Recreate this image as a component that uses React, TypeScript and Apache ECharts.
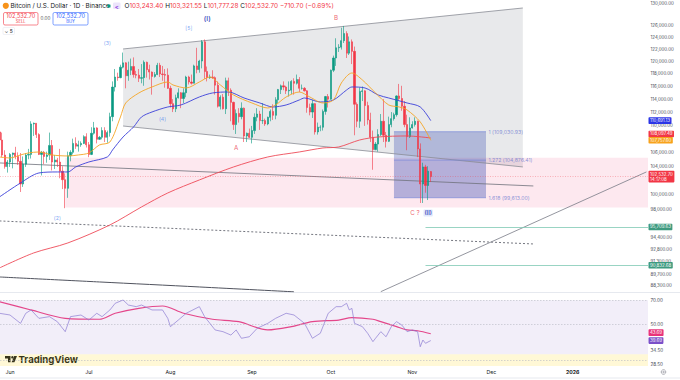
import React, { useEffect, useRef } from 'react';
import * as echarts from 'echarts';

const FONT = 'Inter, Roboto, "Noto Sans", sans-serif';
const DAY = 86400000;
const t = (s: string) => Date.parse(s + 'T00:00:00Z');
const JUN1 = t('2025-06-01');
const X_MIN = JUN1 - 3.8 * DAY;
const X_MAX = JUN1 + 242.6 * DAY;
const Y_MIN = 87560;
const Y_MAX = 130560;
const R_MIN = 27.75;
const R_MAX = 77.58;

// date, open, close, low, high
const candles: [string, number, number, number, number][] = [
  ['2025-05-28', 109000, 107800, 106800, 109300], ['2025-05-29', 107800, 105600, 105300, 108900],
  ['2025-05-30', 105600, 103950, 103650, 106300], ['2025-05-31', 103950, 104600, 103100, 104900],
  ['2025-06-01', 104600, 105700, 103900, 105900], ['2025-06-02', 105700, 105900, 103700, 105950],
  ['2025-06-03', 105900, 105400, 105000, 106800], ['2025-06-04', 105400, 104700, 104200, 106000],
  ['2025-06-05', 104700, 101500, 100400, 105900], ['2025-06-06', 101500, 104300, 101100, 105400],
  ['2025-06-07', 104300, 105600, 103900, 105900], ['2025-06-08', 105600, 105700, 105000, 106500],
  ['2025-06-09', 105700, 110200, 105100, 110600], ['2025-06-10', 110200, 110300, 108400, 110400],
  ['2025-06-11', 110300, 108600, 108100, 110300], ['2025-06-12', 108600, 105700, 105600, 108800],
  ['2025-06-13', 105700, 106000, 102700, 106200], ['2025-06-14', 106000, 105400, 104300, 106200],
  ['2025-06-15', 105400, 105600, 104500, 106100], ['2025-06-16', 105600, 107000, 104900, 108900],
  ['2025-06-17', 107000, 104600, 103400, 107800], ['2025-06-18', 104600, 104900, 103600, 105600],
  ['2025-06-19', 104900, 104600, 103900, 105200], ['2025-06-20', 104600, 103300, 102300, 106500],
  ['2025-06-21', 103300, 102100, 100800, 104000], ['2025-06-22', 102100, 100900, 98200, 103000],
  ['2025-06-23', 100900, 105500, 99600, 106100], ['2025-06-24', 105500, 106000, 104700, 106300],
  ['2025-06-25', 106000, 107300, 105700, 108000], ['2025-06-26', 107300, 106900, 106500, 108200],
  ['2025-06-27', 106900, 107100, 106100, 107700], ['2025-06-28', 107100, 107300, 106800, 107600],
  ['2025-06-29', 107300, 108300, 107200, 108500], ['2025-06-30', 108300, 107100, 106700, 108800],
  ['2025-07-01', 107100, 105700, 105300, 107500], ['2025-07-02', 105700, 108800, 105600, 109700],
  ['2025-07-03', 108800, 109600, 108600, 110500], ['2025-07-04', 109600, 107900, 107300, 109700],
  ['2025-07-05', 107900, 108200, 107800, 108400], ['2025-07-06', 108200, 109200, 107900, 109700],
  ['2025-07-07', 109200, 108200, 107500, 109700], ['2025-07-08', 108200, 108900, 107400, 109200],
  ['2025-07-09', 108900, 111300, 108300, 111900], ['2025-07-10', 111300, 115900, 110600, 116800],
  ['2025-07-11', 115900, 117500, 115200, 118800], ['2025-07-12', 117500, 117400, 116900, 118200],
  ['2025-07-13', 117400, 119100, 117300, 119500], ['2025-07-14', 119100, 119800, 118900, 121500],
  ['2025-07-15', 119800, 117700, 115700, 119900], ['2025-07-16', 117700, 118600, 116900, 120000],
  ['2025-07-17', 118600, 119200, 117800, 120500], ['2025-07-18', 119200, 117900, 117400, 120700],
  ['2025-07-19', 117900, 117800, 117300, 118500], ['2025-07-20', 117800, 117300, 116700, 118800],
  ['2025-07-21', 117300, 117400, 116500, 119600], ['2025-07-22', 117400, 119900, 116100, 120200],
  ['2025-07-23', 119900, 118700, 117400, 120000], ['2025-07-24', 118700, 118300, 117100, 119500],
  ['2025-07-25', 118300, 117600, 114700, 118400], ['2025-07-26', 117600, 117900, 117400, 118300],
  ['2025-07-27', 117900, 119400, 117800, 119800], ['2025-07-28', 119400, 118000, 117500, 119800],
  ['2025-07-29', 118000, 117900, 116900, 119300], ['2025-07-30', 117900, 117800, 115800, 118800],
  ['2025-07-31', 117800, 115700, 115600, 118900], ['2025-08-01', 115700, 113300, 112700, 116100],
  ['2025-08-02', 113300, 112500, 112000, 114000], ['2025-08-03', 112500, 114200, 112000, 114700],
  ['2025-08-04', 114200, 115000, 114100, 115700], ['2025-08-05', 115000, 114100, 112600, 115100],
  ['2025-08-06', 114100, 115000, 113400, 115700], ['2025-08-07', 115000, 117500, 114300, 117700],
  ['2025-08-08', 117500, 116700, 116300, 117700], ['2025-08-09', 116700, 116500, 116300, 117900],
  ['2025-08-10', 116500, 119300, 116500, 119500], ['2025-08-11', 119300, 118700, 118100, 122300],
  ['2025-08-12', 118700, 120100, 118200, 120300], ['2025-08-13', 120100, 123300, 118900, 123600],
  ['2025-08-14', 123300, 118400, 117200, 123700], ['2025-08-15', 118400, 117400, 116800, 119200],
  ['2025-08-16', 117400, 117500, 117200, 117900], ['2025-08-17', 117500, 117400, 117200, 118600],
  ['2025-08-18', 117400, 116200, 114700, 117600], ['2025-08-19', 116200, 112900, 112700, 116800],
  ['2025-08-20', 112900, 114300, 112400, 114600], ['2025-08-21', 114300, 112500, 112400, 114800],
  ['2025-08-22', 112500, 116900, 111700, 117400], ['2025-08-23', 116900, 115400, 114500, 117400],
  ['2025-08-24', 115400, 113500, 110600, 115700], ['2025-08-25', 113500, 110100, 109300, 113600],
  ['2025-08-26', 110100, 111800, 108700, 112400], ['2025-08-27', 111800, 111300, 110400, 112600],
  ['2025-08-28', 111300, 112600, 110900, 113500], ['2025-08-29', 112600, 108400, 107500, 112700],
  ['2025-08-30', 108400, 108800, 107500, 108900], ['2025-08-31', 108800, 108200, 108100, 109500],
  ['2025-09-01', 108200, 109200, 107300, 109900], ['2025-09-02', 109200, 111200, 108700, 111800],
  ['2025-09-03', 111200, 111700, 110600, 112600], ['2025-09-04', 111700, 110700, 109300, 112200],
  ['2025-09-05', 110700, 110700, 110200, 113400], ['2025-09-06', 110700, 110200, 109900, 111000],
  ['2025-09-07', 110200, 111200, 110000, 111300], ['2025-09-08', 111200, 112100, 110600, 112400],
  ['2025-09-09', 112100, 111500, 110800, 113200], ['2025-09-10', 111500, 113900, 110900, 114300],
  ['2025-09-11', 113900, 115500, 113400, 115600], ['2025-09-12', 115500, 116100, 114800, 116300],
  ['2025-09-13', 116100, 115900, 115400, 116800], ['2025-09-14', 115900, 115300, 114800, 116100],
  ['2025-09-15', 115300, 115400, 114400, 116800], ['2025-09-16', 115400, 116800, 114800, 117000],
  ['2025-09-17', 116800, 116500, 114700, 117300], ['2025-09-18', 116500, 117100, 116300, 117900],
  ['2025-09-19', 117100, 115700, 115100, 117500], ['2025-09-20', 115700, 115700, 115500, 116300],
  ['2025-09-21', 115700, 115300, 115200, 115900], ['2025-09-22', 115300, 112700, 111900, 115400],
  ['2025-09-23', 112700, 112000, 111500, 113300], ['2025-09-24', 112000, 113300, 111100, 113900],
  ['2025-09-25', 113300, 109000, 108600, 113400], ['2025-09-26', 109000, 109700, 108600, 110400],
  ['2025-09-27', 109700, 109700, 109100, 110000], ['2025-09-28', 109700, 112100, 109200, 112400],
  ['2025-09-29', 112100, 114400, 111600, 114500], ['2025-09-30', 114400, 114000, 112700, 114800],
  ['2025-10-01', 114000, 118600, 113900, 118700], ['2025-10-02', 118600, 120600, 118300, 121000],
  ['2025-10-03', 120600, 122300, 119300, 123900], ['2025-10-04', 122300, 122400, 121600, 122900],
  ['2025-10-05', 122400, 123500, 122000, 125700], ['2025-10-06', 123500, 124700, 123100, 126000],
  ['2025-10-07', 124700, 121400, 120600, 125100], ['2025-10-08', 121400, 123300, 121100, 124200],
  ['2025-10-09', 123300, 121700, 119600, 123700], ['2025-10-10', 121700, 113200, 108500, 122500],
  ['2025-10-11', 113200, 110600, 109700, 113500], ['2025-10-12', 110600, 115200, 109600, 115800],
  ['2025-10-13', 115200, 115300, 113700, 116000], ['2025-10-14', 115300, 113000, 109900, 115400],
  ['2025-10-15', 113000, 110800, 110100, 113600], ['2025-10-16', 110800, 108200, 107500, 111900],
  ['2025-10-17', 108200, 106400, 103500, 109200], ['2025-10-18', 106400, 107200, 106300, 107500],
  ['2025-10-19', 107200, 108600, 106100, 109400], ['2025-10-20', 108600, 110600, 108400, 111700],
  ['2025-10-21', 110600, 108500, 107500, 114000], ['2025-10-22', 108500, 107600, 106700, 109000],
  ['2025-10-23', 107600, 110100, 107500, 111300], ['2025-10-24', 110100, 111000, 109700, 112000],
  ['2025-10-25', 111000, 111600, 110700, 111900], ['2025-10-26', 111600, 114500, 111300, 114600],
  ['2025-10-27', 114500, 114100, 113800, 116400], ['2025-10-28', 114100, 112900, 112200, 116100],
  ['2025-10-29', 112900, 110100, 109700, 113700], ['2025-10-30', 110100, 108300, 106300, 111600],
  ['2025-10-31', 108300, 109600, 108100, 111200], ['2025-11-01', 109600, 110100, 109500, 110600],
  ['2025-11-02', 110100, 110600, 109800, 111200], ['2025-11-03', 110600, 106500, 105300, 110700],
  ['2025-11-04', 106500, 101500, 98900, 107300], ['2025-11-05', 101500, 103900, 98900, 104500],
  ['2025-11-06', 103900, 101300, 100300, 104200], ['2025-11-07', 101300, 103300, 99300, 104000],
  ['2025-11-08', 103243.4, 102532.7, 101777.28, 103321.55],
];

const maOrange: [string, number][] = [
  ['2025-05-28', 105327], ['2025-06-01', 105184], ['2025-06-05', 105616], ['2025-06-08', 105906],
  ['2025-06-12', 106050], ['2025-06-17', 105616], ['2025-06-23', 105471], ['2025-06-27', 105616],
  ['2025-07-01', 105906], ['2025-07-05', 107071], ['2025-07-09', 107511], ['2025-07-13', 111252],
  ['2025-07-15', 113403], ['2025-07-20', 114965], ['2025-07-25', 115912], ['2025-07-31', 116707],
  ['2025-08-02', 116230], ['2025-08-07', 115754], ['2025-08-12', 116707], ['2025-08-16', 117509],
  ['2025-08-20', 116230], ['2025-08-25', 114651], ['2025-09-01', 113403], ['2025-09-07', 112630],
  ['2025-09-10', 113094], ['2025-09-14', 114338], ['2025-09-19', 115122], ['2025-09-23', 114338],
  ['2025-09-28', 113403], ['2025-10-02', 113870], ['2025-10-05', 116548], ['2025-10-09', 118154],
  ['2025-10-13', 117028], ['2025-10-18', 114965], ['2025-10-23', 113094], ['2025-10-27', 112784],
  ['2025-10-30', 112323], ['2025-11-04', 110494], ['2025-11-08', 107757.6],
];
const maBlue: [string, number][] = [
  ['2025-05-28', 99718], ['2025-06-05', 101647], ['2025-06-12', 103047], ['2025-06-19', 103188],
  ['2025-06-23', 103188], ['2025-06-26', 103896], ['2025-07-01', 104609], ['2025-07-08', 105327],
  ['2025-07-10', 106341], ['2025-07-14', 108249], ['2025-07-18', 109741], ['2025-07-21', 111252],
  ['2025-07-25', 112015], ['2025-07-31', 112784], ['2025-08-05', 113094], ['2025-08-12', 114338],
  ['2025-08-17', 114965], ['2025-08-23', 115122], ['2025-08-29', 114181], ['2025-09-04', 113403],
  ['2025-09-09', 112784], ['2025-09-14', 113094], ['2025-09-19', 113870], ['2025-09-21', 114181],
  ['2025-09-27', 113559], ['2025-10-02', 113870], ['2025-10-07', 115438], ['2025-10-09', 115912],
  ['2025-10-14', 115754], ['2025-10-19', 114651], ['2025-10-23', 114181], ['2025-10-30', 113403],
  ['2025-11-04', 112784], ['2025-11-08', 110691.13],
];
const maRed: [string, number][] = [
  ['2025-05-28', 90488], ['2025-06-10', 92365], ['2025-06-23', 93638], ['2025-07-09', 95972],
  ['2025-07-21', 98363], ['2025-07-31', 100266], ['2025-08-12', 102065], ['2025-08-25', 103896],
  ['2025-09-07', 105327], ['2025-09-19', 106050], ['2025-09-28', 106633], ['2025-10-04', 106779],
  ['2025-10-12', 107806], ['2025-10-19', 108249], ['2025-10-30', 108398], ['2025-11-08', 108097.49],
];

const rsi: [string, number][] = [
  ['2025-05-28', 58.3], ['2025-06-01', 56.9], ['2025-06-05', 50.6], ['2025-06-07', 58.3], ['2025-06-09', 61.1],
  ['2025-06-12', 54.3], ['2025-06-16', 55.6], ['2025-06-19', 51.8], ['2025-06-22', 45.0], ['2025-06-24', 55.6],
  ['2025-06-28', 56.9], ['2025-07-01', 53.0], ['2025-07-04', 58.3], ['2025-07-06', 55.6], ['2025-07-09', 61.1],
  ['2025-07-11', 67.1], ['2025-07-14', 70.3], ['2025-07-16', 65.5], ['2025-07-19', 64.0], ['2025-07-21', 65.5],
  ['2025-07-25', 61.1], ['2025-07-29', 61.1], ['2025-07-31', 54.3], ['2025-08-01', 48.3], ['2025-08-04', 53.0],
  ['2025-08-07', 58.3], ['2025-08-12', 64.0], ['2025-08-14', 55.6], ['2025-08-18', 46.1], ['2025-08-21', 45.0],
  ['2025-08-24', 42.9], ['2025-08-26', 46.1], ['2025-08-28', 41.0], ['2025-08-31', 41.9], ['2025-09-03', 47.2],
  ['2025-09-07', 50.6], ['2025-09-10', 54.3], ['2025-09-14', 58.3], ['2025-09-17', 56.9], ['2025-09-21', 50.6],
  ['2025-09-24', 41.0], ['2025-09-27', 44.0], ['2025-09-30', 58.3], ['2025-10-03', 64.0], ['2025-10-05', 64.0],
  ['2025-10-07', 67.1], ['2025-10-08', 61.1], ['2025-10-09', 62.5], ['2025-10-10', 50.6], ['2025-10-13', 48.3],
  ['2025-10-15', 44.0], ['2025-10-17', 39.1], ['2025-10-18', 41.0], ['2025-10-20', 45.0], ['2025-10-22', 41.9],
  ['2025-10-24', 48.3], ['2025-10-26', 51.8], ['2025-10-28', 49.4], ['2025-10-30', 45.0], ['2025-11-01', 46.1],
  ['2025-11-03', 45.0], ['2025-11-04', 36.4], ['2025-11-05', 40.0], ['2025-11-06', 38.2], ['2025-11-08', 39.69],
];
const rsiMa: [string, number][] = [
  ['2025-05-28', 68.6], ['2025-06-09', 61.1], ['2025-06-22', 54.3], ['2025-07-05', 53.6], ['2025-07-11', 58.3],
  ['2025-07-20', 62.5], ['2025-07-29', 64.6], ['2025-08-06', 58.3], ['2025-08-17', 53.6], ['2025-08-27', 51.8],
  ['2025-09-07', 46.1], ['2025-09-16', 48.3], ['2025-09-24', 51.8], ['2025-10-04', 53.0], ['2025-10-09', 54.8],
  ['2025-10-17', 53.6], ['2025-10-20', 51.8], ['2025-10-26', 48.3], ['2025-10-30', 46.1], ['2025-11-03', 45.6],
  ['2025-11-08', 43.69],
];

const priceTicks = [130000, 126000, 124000, 122000, 120000, 118000, 116000, 114000, 112000, 110000,
  106000, 104000, 100000, 98000, 94400, 92800, 91300, 89700, 88300];
const rsiTicks = [70, 50, 34.5, 28.5];
const rsiLevels = [70, 50, 30];
const monthTicks = ['2025-06-01', '2025-07-01', '2025-08-01', '2025-09-01', '2025-10-01', '2025-11-01', '2025-12-01', '2026-01-01'];
const monthNames = ['Jan', 'Feb', 'Mar', 'Apr', 'May', 'Jun', 'Jul', 'Aug', 'Sep', 'Oct', 'Nov', 'Dec'];

// drawings (date, price)
const channelPoly: [string, number][] = [['2025-07-14', 122097], ['2025-12-13', 129140], ['2025-12-13', 103900], ['2025-07-14', 109885]];
const channelTop: [string, number][] = [['2025-07-14', 122097], ['2025-12-13', 129140]];
const channelBottom: [string, number][] = [['2025-07-14', 109885], ['2025-12-13', 103900]];
const trendLine: [string, number][] = [['2025-05-28', 104470], ['2025-12-17', 101230]];
const dashedLine: [string, number][] = [['2025-05-28', 96500], ['2025-12-17', 93510]];
const risingLine: [string, number][] = [['2025-10-20', 87600], ['2026-01-29', 103190]];
const lowerCurve: [string, number][] = [['2025-05-28', 89380], ['2025-07-05', 88771], ['2025-08-12', 88166], ['2025-09-17', 87580]];
const zoneStart = '2025-06-22';
const zoneTop = 105230;
const zoneBottom = 98300;
const fibStart = '2025-10-25';
const fibEnd = '2025-11-29';
const fibLevels: [string, number][] = [['1', 109030.93], ['1.272', 104876.41], ['1.618', 99613.0]];
const targetStart = '2025-11-06';
const targets = [95709.63, 90832.68];
const lastPrice = 102532.7;
const lastTime = '14:17:08';
const rsiBandTop = 70;
const rsiBandBottom = 32.7;

const waveLabels = [
  { text: '(I)', date: '2025-08-15', price: 127200, kind: 'major' },
  { text: '[5]', date: '2025-08-08', price: 125650, kind: 'minor' },
  { text: 'B', date: '2025-10-03', price: 127390, kind: 'red' },
  { text: '(3)', date: '2025-07-08', price: 123100, kind: 'minor' },
  { text: '(4)', date: '2025-07-29', price: 110950, kind: 'minor' },
  { text: 'A', date: '2025-08-26', price: 106630, kind: 'red' },
  { text: '(2)', date: '2025-06-19', price: 96890, kind: 'minor' },
  { text: 'C ?', date: '2025-11-02', price: 97560, kind: 'red' },
  { text: '(II)', date: '2025-11-07', price: 97560, kind: 'box' },
];

const fmt2 = (v: number) => v.toLocaleString('en-US', { minimumFractionDigits: 2, maximumFractionDigits: 2 });
const toXY = (arr: [string, number][]) => arr.map(([d, v]) => [t(d), v]);

const UP = '#089981';
const DOWN = '#f23645';

function lineSeries(data: [string, number][], color: string, width: number, z: number, extra: any = {}, xi = 0) {
  const { lineStyle, ...rest } = extra;
  return {
    type: 'line', xAxisIndex: xi, yAxisIndex: xi, data: toXY(data), showSymbol: false, symbol: 'none',
    silent: true, z, lineStyle: { color, width, ...(lineStyle || {}) }, ...rest,
  };
}

function boxSeries(data: number[][], fills: string[], xi: number, z: number) {
  return {
    type: 'custom', xAxisIndex: xi, yAxisIndex: xi, z, silent: true,
    encode: { x: [0, 2], y: [1, 3] },
    data,
    renderItem: (params: any, api: any) => {
      const a = api.coord([api.value(0), api.value(1)]);
      const b = api.coord([api.value(2), api.value(3)]);
      return {
        type: 'rect',
        shape: { x: Math.min(a[0], b[0]), y: Math.min(a[1], b[1]), width: Math.abs(b[0] - a[0]), height: Math.abs(b[1] - a[1]) },
        style: { fill: fills[params.dataIndex] },
      };
    },
  };
}

const tagLabel = (bg: string, text: string, extra: any = {}) => ({
  show: true, position: 'end', distance: 0.5, formatter: text, color: '#fff', backgroundColor: bg,
  padding: [1, 1.5, 0.6, 1.5], fontSize: 4.4, borderRadius: 0.8, fontFamily: FONT, lineHeight: 5, ...extra,
});

const xAxisBase = { type: 'value', min: X_MIN, max: X_MAX, axisLine: { show: false }, axisTick: { show: false }, splitLine: { show: false } };

export default function App() {
  const ref = useRef<HTMLDivElement>(null);
  useEffect(() => {
    if (!ref.current) return;
    const chart = echarts.init(ref.current, undefined, { renderer: 'svg' });

    const waveStyle = (kind: string) => {
      if (kind === 'major') return { color: '#2a3ab8', fontSize: 6.6, fontWeight: 'bold' };
      if (kind === 'red') return { color: '#e8394a', fontSize: 6.2 };
      if (kind === 'box') return { color: '#2a3ab8', fontSize: 5.6, fontWeight: 'bold', backgroundColor: '#d9e3fb', padding: [0.5, 1], borderRadius: 1 };
      return { color: '#5b8def', fontSize: 5.2 };
    };

    const option: any = {
      animation: false,
      textStyle: { fontFamily: FONT },
      grid: [
        { left: 0, top: 0, width: 648, height: 292, containLabel: false, outerBoundsMode: 'none' },
        { left: 0, top: 293, width: 648, height: 73, containLabel: false, outerBoundsMode: 'none' },
      ],
      xAxis: [
        { ...xAxisBase, gridIndex: 0, axisLabel: { show: false } },
        {
          ...xAxisBase, gridIndex: 1,
          axisLabel: {
            show: true, customValues: monthTicks.map(t), fontSize: 5.2, color: '#131722', margin: 3.2, fontFamily: FONT,
            showMinLabel: true, showMaxLabel: true,
            formatter: (v: number) => {
              const d = new Date(v);
              return d.getUTCMonth() === 0 ? '{b|' + d.getUTCFullYear() + '}' : monthNames[d.getUTCMonth()];
            },
            rich: { b: { fontWeight: 'bold', fontSize: 5.2, color: '#131722', fontFamily: FONT } },
          },
        },
      ],
      yAxis: [
        {
          type: 'log', gridIndex: 0, position: 'right', min: Y_MIN, max: Y_MAX,
          axisLine: { show: false }, axisTick: { show: false }, splitLine: { show: false },
          axisLabel: { customValues: priceTicks, formatter: (v: number) => fmt2(v), fontSize: 4.4, color: '#434651', margin: 2.5, fontFamily: FONT },
        },
        {
          type: 'log', gridIndex: 1, position: 'right', min: R_MIN, max: R_MAX,
          axisLine: { show: false }, axisTick: { show: false }, splitLine: { show: false },
          axisLabel: { customValues: rsiTicks, formatter: (v: number) => v.toFixed(2), fontSize: 4.6, color: '#434651', margin: 2.5, fontFamily: FONT },
        },
      ],
      series: [
        {
          type: 'custom', xAxisIndex: 0, yAxisIndex: 0, z: 1, silent: true,
          encode: { x: [0, 2, 4, 6], y: [1, 3, 5, 7] },
          data: [channelPoly.flatMap(([d, v]) => [t(d), v])],
          renderItem: (params: any, api: any) => {
            const pts = [0, 1, 2, 3].map((i) => api.coord([api.value(i * 2), api.value(i * 2 + 1)]));
            return { type: 'polygon', shape: { points: pts }, style: { fill: 'rgba(120,123,134,0.17)' } };
          },
        },
        boxSeries(
          [
            [t(zoneStart), zoneTop, X_MAX, zoneBottom],
            [t(fibStart), fibLevels[0][1], t(fibEnd), fibLevels[1][1]],
            [t(fibStart), fibLevels[1][1], t(fibEnd), fibLevels[2][1]],
          ],
          ['rgba(233,30,99,0.10)', 'rgba(63,81,181,0.32)', 'rgba(63,81,181,0.38)'],
          0, 1.5,
        ),
        lineSeries(channelTop, '#8a8d96', 0.8, 3),
        lineSeries(channelBottom, '#8a8d96', 0.8, 3),
        lineSeries(trendLine, '#6e717b', 0.8, 3),
        lineSeries(dashedLine, '#50535e', 0.8, 3, { lineStyle: { type: [2, 2] } }),
        lineSeries(risingLine, '#787b86', 0.8, 3),
        lineSeries(lowerCurve, '#50535e', 1, 3, { smooth: 0.3 }),
        ...fibLevels.map(([, p]) => lineSeries([[fibStart, p], [fibEnd, p]], '#6f7fd8', 0.6, 3)),
        {
          type: 'candlestick', xAxisIndex: 0, yAxisIndex: 0, z: 5, silent: true,
          encode: { x: 0, y: [1, 2, 3, 4] },
          data: candles.map(([d, o, c, l, h]) => [t(d), o, c, l, h]),
          barWidth: 1.7,
          itemStyle: { color: UP, color0: DOWN, borderColor: UP, borderColor0: DOWN, borderWidth: 0.6 },
          markLine: {
            silent: true, symbol: ['none', 'none'], animation: false,
            data: [
              { yAxis: 110691.13, lineStyle: { color: 'rgba(0,0,0,0)', width: 0 }, label: tagLabel('#2b35e6', '110,691.13') },
              { yAxis: 108700, lineStyle: { color: 'rgba(0,0,0,0)', width: 0 }, label: tagLabel('#f23645', '108,097.49') },
              { yAxis: 107757.6, lineStyle: { color: 'rgba(0,0,0,0)', width: 0 }, label: tagLabel('#f7a21b', '107,757.60') },
              { yAxis: lastPrice, lineStyle: { color: 'rgba(242,54,69,0.55)', width: 0.6, type: [1, 1.5] }, label: tagLabel('#f23645', fmt2(lastPrice) + '\n' + lastTime) },
              ...targets.map((p) => [
                { coord: [t(targetStart), p], lineStyle: { color: '#7fc9b4', width: 0.8, type: 'solid' }, label: tagLabel('#3d9a7f', fmt2(p)) },
                { coord: [X_MAX, p] },
              ]),
            ],
          },
        },
        lineSeries(maRed, '#ee4b58', 0.9, 6, { smooth: 0.3 }),
        lineSeries(maBlue, '#3b3fd9', 0.9, 6, { smooth: 0.3 }),
        lineSeries(maOrange, '#f5a524', 0.9, 6, { smooth: 0.3 }),
        {
          type: 'scatter', xAxisIndex: 0, yAxisIndex: 0, z: 20, silent: true, symbol: 'rect', symbolSize: 0.01,
          itemStyle: { color: 'rgba(0,0,0,0)' },
          data: waveLabels.map((w) => ({ value: [t(w.date), w.price], label: { show: true, position: 'inside', formatter: w.text, fontFamily: FONT, ...waveStyle(w.kind) } })),
        },
        {
          type: 'scatter', xAxisIndex: 0, yAxisIndex: 0, z: 20, silent: true, symbol: 'rect', symbolSize: 0.01,
          itemStyle: { color: 'rgba(0,0,0,0)' },
          data: fibLevels.map(([r, p]) => ({ value: [t(fibEnd), p], label: { show: true, position: 'right', distance: 2.5, formatter: r + ' (' + fmt2(p) + ')', fontFamily: FONT, fontSize: 5.2, color: '#6f7bd0' } })),
        },
        boxSeries(
          [
            [X_MIN, rsiBandTop, X_MAX, rsiBandBottom],
            [X_MIN, rsiBandBottom, X_MAX, R_MIN],
          ],
          ['rgba(126,87,194,0.10)', 'rgba(255,214,0,0.16)'],
          1, 1,
        ),
        lineSeries(rsiMa, '#e4468a', 1.2, 4, { smooth: 0.3 }, 1),
        {
          ...lineSeries(rsi, '#8c7bd2', 0.7, 5, {}, 1),
          markLine: {
            silent: true, symbol: ['none', 'none'], animation: false,
            data: [
              ...rsiLevels.map((v) => ({ yAxis: v, lineStyle: { color: '#b7b9c2', width: 0.6, type: [1.5, 1.5] }, label: { show: false } })),
              { yAxis: 44.4, lineStyle: { color: 'rgba(0,0,0,0)', width: 0 }, label: tagLabel('#e8337a', '43.69') },
              { yAxis: 39.69, lineStyle: { color: 'rgba(0,0,0,0)', width: 0 }, label: tagLabel('#7b50c9', '39.69') },
            ],
          },
        },
      ],
      graphic: [
        { type: 'line', silent: true, shape: { x1: 0, y1: 292.5, x2: 680, y2: 292.5 }, style: { stroke: '#e0e3eb', lineWidth: 0.8 } },
        { type: 'line', silent: true, shape: { x1: 0, y1: 378, x2: 680, y2: 378 }, style: { stroke: '#e0e3eb', lineWidth: 0.8 } },
        { type: 'circle', silent: true, shape: { cx: 5.8, cy: 5.8, r: 3.1 }, style: { fill: '#f7931a' } },
        { type: 'text', silent: true, x: 10.5, y: 6, style: { text: 'Bitcoin / U.S. Dollar · 1D · Binance', fontSize: 6.3, fill: '#131722', verticalAlign: 'middle', fontFamily: FONT } },
        { type: 'rect', silent: true, shape: { x: 107.5, y: 4.5, width: 3, height: 3, r: 0.5 }, style: { fill: '#089981' } },
        { type: 'rect', silent: true, shape: { x: 113, y: 2.5, width: 7.5, height: 6.5, r: 1.2 }, style: { fill: '#ece4fb' } },
        { type: 'text', silent: true, x: 116.7, y: 6, style: { text: '<', fontSize: 6, fill: '#8e44e0', align: 'center', verticalAlign: 'middle', fontFamily: FONT, fontWeight: 'bold' } },
        {
          type: 'text', silent: true, x: 124.5, y: 6,
          style: {
            text: '{k|O}{v|103,243.40} {k|H}{v|103,321.55} {k|L}{v|101,777.28} {k|C}{v|102,532.70} {v|−710.70 (−0.69%)}',
            verticalAlign: 'middle', fontFamily: FONT, fontSize: 6.4,
            rich: { k: { fill: '#131722', fontSize: 6.4, fontFamily: FONT }, v: { fill: '#f23645', fontSize: 6.4, fontFamily: FONT } },
          },
        },
        { type: 'rect', silent: true, shape: { x: 3.5, y: 12.5, width: 34.5, height: 12.5, r: 1.5 }, style: { fill: '#fff', stroke: '#f23645', lineWidth: 0.6 } },
        { type: 'text', silent: true, x: 20.75, y: 16.3, style: { text: '102,532.70', fontSize: 5.6, fill: '#f23645', align: 'center', verticalAlign: 'middle', fontFamily: FONT } },
        { type: 'text', silent: true, x: 20.75, y: 21.8, style: { text: 'SELL', fontSize: 4.2, fill: '#f23645', align: 'center', verticalAlign: 'middle', fontFamily: FONT } },
        { type: 'text', silent: true, x: 45.5, y: 18.8, style: { text: '0.00', fontSize: 4.6, fill: '#50535e', align: 'center', verticalAlign: 'middle', fontFamily: FONT } },
        { type: 'rect', silent: true, shape: { x: 53, y: 12.5, width: 35, height: 12.5, r: 1.5 }, style: { fill: '#fff', stroke: '#2962ff', lineWidth: 0.6 } },
        { type: 'text', silent: true, x: 70.5, y: 16.3, style: { text: '102,532.70', fontSize: 5.6, fill: '#2962ff', align: 'center', verticalAlign: 'middle', fontFamily: FONT } },
        { type: 'text', silent: true, x: 70.5, y: 21.8, style: { text: 'BUY', fontSize: 4.2, fill: '#2962ff', align: 'center', verticalAlign: 'middle', fontFamily: FONT } },
        { type: 'rect', silent: true, shape: { x: 3, y: 27.5, width: 11.5, height: 7, r: 1 }, style: { fill: '#fff', stroke: '#e0e3eb', lineWidth: 0.5 } },
        { type: 'text', silent: true, x: 8.7, y: 31, style: { text: '⌄ 5', fontSize: 5, fill: '#131722', align: 'center', verticalAlign: 'middle', fontFamily: FONT } },
        { type: 'polygon', silent: true, shape: { points: [[5, 356], [10.5, 356], [10.5, 362.3], [8, 362.3], [8, 358.5], [5, 358.5]] }, style: { fill: '#131722' } },
        { type: 'circle', silent: true, shape: { cx: 12.4, cy: 357.3, r: 1.25 }, style: { fill: '#131722' } },
        { type: 'polygon', silent: true, shape: { points: [[14.2, 356], [17, 356], [14.4, 362.3], [11.6, 362.3]] }, style: { fill: '#131722' } },
        { type: 'text', silent: true, x: 18.5, y: 359.3, style: { text: 'TradingView', fontSize: 9.6, fontWeight: 'bold', fill: '#131722', verticalAlign: 'middle', fontFamily: FONT } },
        { type: 'circle', silent: true, shape: { cx: 663.5, cy: 372, r: 2.3 }, style: { fill: 'none', stroke: '#787b86', lineWidth: 0.6 } },
        { type: 'circle', silent: true, shape: { cx: 663.5, cy: 372, r: 0.8 }, style: { fill: 'none', stroke: '#787b86', lineWidth: 0.5 } },
      ],
    };
    chart.setOption(option);
    return () => chart.dispose();
  }, []);
  return <div ref={ref} style={{ position: 'fixed', left: 0, top: 0, width: 680, height: 380, background: '#fff' }} />;
}
